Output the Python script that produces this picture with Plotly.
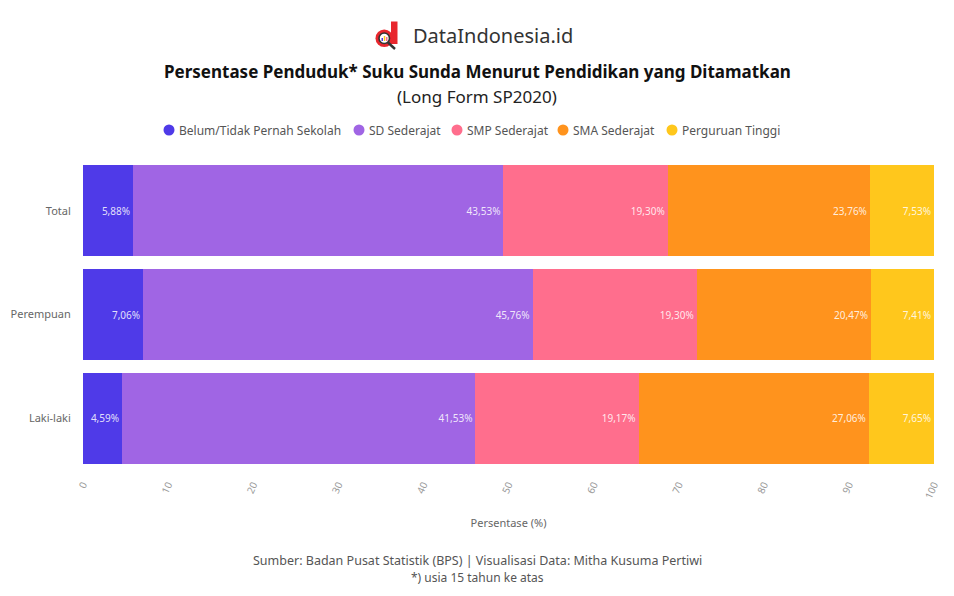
import plotly.graph_objects as go

categories = ["Total", "Perempuan", "Laki-laki"]
series_names = ["Belum/Tidak Pernah Sekolah", "SD Sederajat", "SMP Sederajat",
                "SMA Sederajat", "Perguruan Tinggi"]
belum = [5.88, 7.06, 4.59]
sd = [43.53, 45.76, 41.53]
smp = [19.30, 19.30, 19.17]
sma = [23.76, 20.47, 27.06]
pt = [7.53, 7.41, 7.65]
series_values = [belum, sd, smp, sma, pt]
colors = ["#4F3AE8", "#A065E4", "#FF6E8D", "#FF931D", "#FFC71C"]
x_ticks = [0, 10, 20, 30, 40, 50, 60, 70, 80, 90, 100]

W, H = 954, 596
OFF = 8  # page body margin
# plot area in screen pixels
SX0, SX1, SY0, SY1 = 83, 934, 159, 470
L = SX0 - OFF
R = W - (SX1 - OFF)
T = SY0 - OFF
B = H - (SY1 - OFF)
PW, PH = W - L - R, H - T - B


def px(x):
    return (x - OFF - L) / PW


def py(y):
    return (H - B - (y - OFF)) / PH


fig = go.Figure()
for name, vals, col in zip(series_names, series_values, colors):
    fig.add_trace(go.Bar(
        y=categories, x=vals, name=name, orientation="h",
        marker=dict(color=col, line=dict(width=0)),
        texttemplate="%{x:.2f}%", textposition="inside",
        insidetextanchor="end", textangle=0,
        textfont=dict(color="rgba(255,255,255,0.85)", size=10, family="Noto Sans"),
        showlegend=False, hoverinfo="x+name",
    ))

ann = []
shapes = []

# manual legend (circles + labels)
legend_marker_x = [169, 359, 457, 563, 672]
LEG_Y = 130
for name, col, mx in zip(series_names, colors, legend_marker_x):
    shapes.append(dict(type="circle", xref="paper", yref="paper",
                       x0=px(mx - 5.5), x1=px(mx + 5.5), y0=py(LEG_Y + 5.5), y1=py(LEG_Y - 5.5),
                       fillcolor=col, line=dict(width=0)))
    ann.append(dict(text=name, x=px(mx + 8), y=py(LEG_Y), xref="paper", yref="paper",
                    xanchor="left", yanchor="middle", showarrow=False,
                    font=dict(family="Noto Sans", size=12, color="#555555")))

ann.append(dict(text="DataIndonesia.id", x=px(411), y=py(35), xref="paper", yref="paper",
                xanchor="left", yanchor="middle", showarrow=False,
                font=dict(family="Noto Sans", size=20, color="#333333")))
ann.append(dict(text="<b>Persentase Penduduk* Suku Sunda Menurut Pendidikan yang Ditamatkan</b>",
                x=px(477), y=py(72), xref="paper", yref="paper", xanchor="center",
                yanchor="middle", showarrow=False,
                font=dict(family="Noto Sans", size=17, color="#111111")))
ann.append(dict(text="(Long Form SP2020)", x=px(477), y=py(96), xref="paper", yref="paper",
                xanchor="center", yanchor="middle", showarrow=False,
                font=dict(family="Noto Sans", size=17, color="#222222")))
ann.append(dict(text="Sumber: Badan Pusat Statistik (BPS) | Visualisasi Data: Mitha Kusuma Pertiwi",
                x=px(477), y=py(560), xref="paper", yref="paper", xanchor="center",
                yanchor="middle", showarrow=False,
                font=dict(family="Noto Sans", size=12.5, color="#555555")))
ann.append(dict(text="*) usia 15 tahun ke atas",
                x=px(477), y=py(577), xref="paper", yref="paper", xanchor="center",
                yanchor="middle", showarrow=False,
                font=dict(family="Noto Sans", size=12, color="#555555")))

red = "#E8262D"
shapes.append(dict(type="circle", xref="paper", yref="paper",
                   x0=px(375.5), x1=px(393), y0=py(47), y1=py(29.5),
                   fillcolor=red, line=dict(width=0), layer="above"))
shapes.append(dict(type="rect", xref="paper", yref="paper",
                   x0=px(391), x1=px(397.5), y0=py(44), y1=py(21.5),
                   fillcolor=red, line=dict(width=0), layer="above"))
shapes.append(dict(type="circle", xref="paper", yref="paper",
                   x0=px(379), x1=px(389.5), y0=py(43.5), y1=py(33),
                   fillcolor="white", line=dict(width=1.6, color="#333333"), layer="above"))
shapes.append(dict(type="line", xref="paper", yref="paper",
                   x0=px(388), x1=px(395), y0=py(42.5), y1=py(49),
                   line=dict(width=2.4, color="#333333"), layer="above"))
shapes.append(dict(type="rect", xref="paper", yref="paper",
                   x0=px(381.5), x1=px(383), y0=py(41), y1=py(38),
                   fillcolor="#4F3AE8", line=dict(width=0), layer="above"))
shapes.append(dict(type="rect", xref="paper", yref="paper",
                   x0=px(383.8), x1=px(385.3), y0=py(41), y1=py(36),
                   fillcolor="#FFC71C", line=dict(width=0), layer="above"))
shapes.append(dict(type="rect", xref="paper", yref="paper",
                   x0=px(386), x1=px(387.5), y0=py(41), y1=py(37),
                   fillcolor="#FF6E8D", line=dict(width=0), layer="above"))

fig.update_layout(
    width=W, height=H,
    barmode="stack", bargap=0.12,
    separators=",.",
    showlegend=False,
    paper_bgcolor="white", plot_bgcolor="white",
    margin=dict(l=L, r=R, t=T, b=B, pad=0, autoexpand=False),
    font=dict(family="Noto Sans", color="#555555"),
    annotations=ann,
    shapes=shapes,
    xaxis=dict(range=[0, 100], tickvals=x_ticks, ticktext=[str(v) for v in x_ticks],
               tickangle=-65, tickfont=dict(size=10, color="#999999"),
               showgrid=False, zeroline=False, showline=False,
               ticks="outside", ticklen=4, tickcolor="rgba(0,0,0,0)",
               automargin=False,
               title=dict(text="Persentase (%)", font=dict(size=11, color="#666666"), standoff=19),
               fixedrange=True),
    yaxis=dict(autorange="reversed", showgrid=False, zeroline=False, showline=False,
               ticks="outside", ticklen=9, tickcolor="rgba(0,0,0,0)", automargin=False,
               tickfont=dict(size=11, color="#666666"), fixedrange=True),
)

fig.write_html("out.html")
